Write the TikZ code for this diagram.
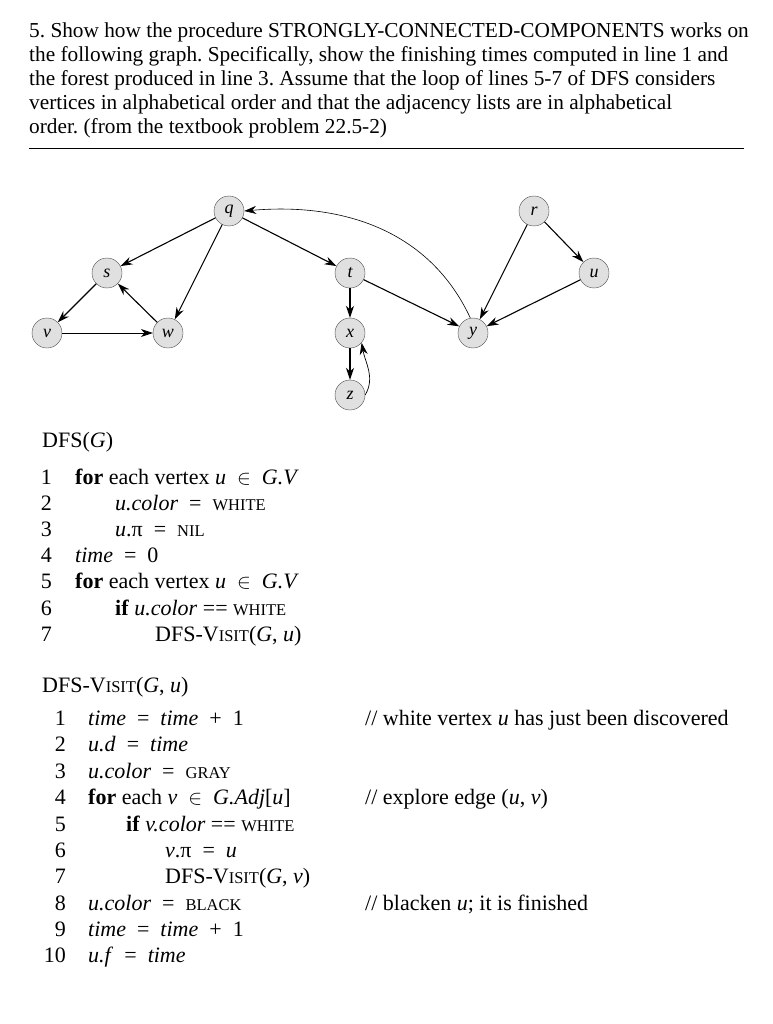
\documentclass[tikz,border=0pt]{standalone}
\usepackage{fontspec}
\setmainfont{Liberation Serif}
\usetikzlibrary{arrows.meta}
\newcommand{\kw}[1]{\textbf{#1}}
\newcommand{\vr}[1]{\textit{#1}}
\newcommand{\sck}[1]{{\fontsize{16.5}{16.5}\selectfont #1}}
\newcommand{\eq}{\enspace=\enspace}
\newcommand{\pl}{\enspace+\enspace}
\newcommand{\iin}{\enspace$\in$\enspace}
\frenchspacing
\begin{document}
\begin{tikzpicture}[x=1pt,y=-1pt,
  vtx/.style={circle,draw=black!70,fill=black!12,minimum size=30pt,inner sep=0pt,font=\fontsize{18}{18}\selectfont\itshape},
  edg/.style={draw,line width=1.1pt,-{Stealth[length=12pt,width=8pt]}},
  txt/.style={anchor=mid west,inner sep=0pt,font=\fontsize{21.3}{21.3}\selectfont},
  cd/.style={anchor=mid west,inner sep=0pt,font=\fontsize{22}{22}\selectfont},
  num/.style={anchor=mid east,inner sep=0pt,font=\fontsize{22}{22}\selectfont}]
\useasboundingbox (0,0) rectangle (772,1024);
\node[txt] (p1) at (29,35) {5. Show how the procedure STRONGLY-CONNECTED-COMPONENTS works on};
\node[txt] (p2) at (29,59) {the following graph. Specifically, show the finishing times computed in line 1 and};
\node[txt] (p3) at (29,83) {the forest produced in line 3. Assume that the loop of lines 5-7 of DFS considers};
\node[txt] (p4) at (29,107) {vertices in alphabetical order and that the adjacency lists are in alphabetical};
\node[txt] (p5) at (29,131) {order. (from the textbook problem 22.5-2)};
\draw[line width=0.6pt] (29,148) -- (744,148);
% graph
\node[vtx] (q) at (229,211) {q};
\node[vtx] (s) at (107,273) {s};
\node[vtx] (v) at (47,333) {v};
\node[vtx] (w) at (168,333) {w};
\node[vtx] (t) at (350,273) {t};
\node[vtx] (x) at (350,333) {x};
\node[vtx] (z) at (350,395) {z};
\node[vtx] (y) at (473,333) {y};
\node[vtx] (r) at (534,211) {r};
\node[vtx] (u) at (594,273) {u};
\draw[edg] (q) -- (s);
\draw[edg] (q) -- (w);
\draw[edg] (q) -- (t);
\draw[edg] (s) -- (v);
\draw[edg] (w) -- (s);
\draw[edg,line width=0.7pt] (v) -- (w);
\draw[edg] (t) -- (x);
\draw[edg] (t) -- (y);
\draw[edg] (x) -- (z);
\draw[edg,line width=0.7pt] (z.east) to[out=60,in=-80] (x.-40);
\draw[edg,line width=0.6pt] (y.100) to[out=115,in=5] (q.east);
\draw[edg] (r) -- (y);
\draw[edg] (r) -- (u);
\draw[edg] (u) -- (y);
% DFS
\node[cd] (d0) at (42,445) {DFS(\vr{G})};
\node[num] (n1) at (52,482) {1}; \node[cd] (c1) at (75,482) {\kw{for} each vertex \vr{u}\iin\vr{G.V}};
\node[num] (n2) at (52,508) {2}; \node[cd] (c2) at (115,508) {\vr{u.color}\eq\sck{WHITE}};
\node[num] (n3) at (52,534) {3}; \node[cd] (c3) at (115,534) {\vr{u}.π\eq\sck{NIL}};
\node[num] (n4) at (52,560) {4}; \node[cd] (c4) at (75,560) {\vr{time}\eq0};
\node[num] (n5) at (52,586) {5}; \node[cd] (c5) at (75,586) {\kw{for} each vertex \vr{u}\iin\vr{G.V}};
\node[num] (n6) at (52,613) {6}; \node[cd] (c6) at (115,613) {\kw{if} \vr{u.color} == \sck{WHITE}};
\node[num] (n7) at (52,639) {7}; \node[cd] (c7) at (155,639) {DFS-V\sck{ISIT}(\vr{G}, \vr{u})};
% DFS-VISIT
\node[cd] (e0) at (42,690) {DFS-V\sck{ISIT}(\vr{G}, \vr{u})};
\node[num] (m1) at (66,723) {1}; \node[cd] (f1) at (88,723) {\vr{time}\eq\vr{time}\pl1};
\node[num] (m2) at (66,749) {2}; \node[cd] (f2) at (88,749) {\vr{u.d}\eq\vr{time}};
\node[num] (m3) at (66,776) {3}; \node[cd] (f3) at (88,776) {\vr{u.color}\eq\sck{GRAY}};
\node[num] (m4) at (66,802) {4}; \node[cd] (f4) at (88,802) {\kw{for} each \vr{v}\iin\vr{G.Adj}[\vr{u}]};
\node[num] (m5) at (66,829) {5}; \node[cd] (f5) at (126,829) {\kw{if} \vr{v.color} == \sck{WHITE}};
\node[num] (m6) at (66,855) {6}; \node[cd] (f6) at (165,855) {\vr{v}.π\eq\vr{u}};
\node[num] (m7) at (66,881) {7}; \node[cd] (f7) at (165,881) {DFS-V\sck{ISIT}(\vr{G}, \vr{v})};
\node[num] (m8) at (66,908) {8}; \node[cd] (f8) at (88,908) {\vr{u.color}\eq\sck{BLACK}};
\node[num] (m9) at (66,934) {9}; \node[cd] (f9) at (88,934) {\vr{time}\eq\vr{time}\pl1};
\node[num] (m10) at (66,960) {10}; \node[cd] (f10) at (88,960) {\vr{u.f}\eq\vr{time}};
\node[cd] (k1) at (365,723) {// white vertex \vr{u} has just been discovered};
\node[cd] (k2) at (365,802) {// explore edge (\vr{u}, \vr{v})};
\node[cd] (k3) at (365,908) {// blacken \vr{u}; it is finished};
\end{tikzpicture}
\end{document}
